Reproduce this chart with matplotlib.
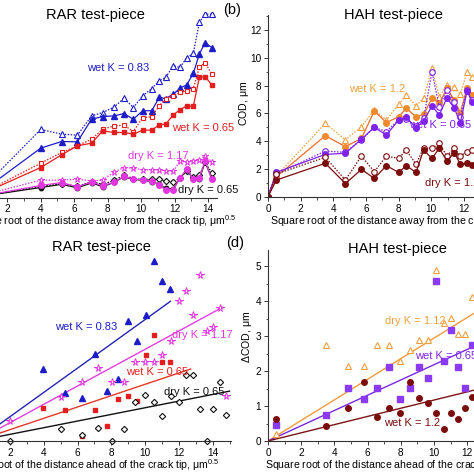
import matplotlib
matplotlib.use("Agg")
import matplotlib.pyplot as plt
from matplotlib.ticker import MultipleLocator

plt.rcParams['font.family'] = ['Liberation Sans', 'DejaVu Sans']
plt.rcParams['mathtext.fontset'] = 'custom'
plt.rcParams['mathtext.rm'] = 'Liberation Sans'
plt.rcParams['mathtext.it'] = 'Liberation Sans:italic'

W = H = 474

# ---------------- data: panel (a) RAR, COD along the crack ----------------
a_x = [0, 4.0, 5.25, 6.19, 7.04, 7.70, 8.40, 8.97, 9.53, 10.09, 10.63, 11.08,
       11.46, 11.92, 12.32, 12.72, 13.11, 13.47, 13.81, 14.21]
a_wet083_open = [0, 4.91, 4.57, 4.50, 5.89, 6.13, 6.54, 7.16, 6.49, 7.34, 7.86, 8.42,
                 8.66, 9.50, 9.38, 10.10, 10.39, 12.63, 13.23, 13.23]
a_wet083_fill = [0, 3.56, 4.04, 4.02, 5.65, 5.84, 5.89, 6.06, 5.65, 6.26, 6.26, 7.22,
                 7.14, 7.45, 7.89, 8.13, 8.95, 10.34, 11.18, 10.82]
a_wet065_open = [0, 2.47, 3.25, 3.73, 4.21, 4.93, 5.17, 5.22, 4.76, 5.77, 5.82, 6.62,
                 7.14, 7.34, 7.58, 7.70, 7.86, 9.38, 9.74, 8.90]
a_wet065_fill = [0, 2.16, 3.08, 3.73, 3.92, 4.81, 4.69, 4.69, 4.57, 4.86, 4.86, 5.25,
                 5.29, 5.97, 6.33, 6.62, 6.57, 8.66, 8.73, 8.13]
a_dry117_open = [0, 1.25, 1.25, 1.32, 1.20, 1.25, 1.85, 2.16, 2.11, 2.00, 2.00, 2.00,
                 1.93, 1.88, 2.65, 2.53, 2.65, 2.69, 3.01, 2.58]
a_dry117_fill = [0, 0.87, 1.08, 0.77, 1.13, 0.84, 1.13, 1.52, 1.32, 1.28, 1.20, 0.89,
                 0.56, 0.56, 1.44, 2.04, 1.32, 1.40, 2.65, 1.32]
a_dry065_open = [0, 0.79, 1.00, 0.80, 1.15, 0.94, 1.25, 1.61, 1.37, 1.30, 1.30, 1.32,
                 1.20, 1.15, 1.39, 1.93, 1.49, 1.60, 2.53, 1.80]
a_dry065_fill = [0, 0.72, 0.95, 0.70, 1.05, 0.78, 1.10, 1.50, 1.30, 1.25, 1.15, 0.95,
                 0.65, 0.62, 1.40, 1.95, 1.35, 1.32, 2.55, 1.40]

# ---------------- data: panel (b) HAH, COD along the crack ----------------
b_x = [0, 0.51, 3.51, 4.74, 5.72, 6.51, 7.25, 8.00, 8.47, 9.06, 9.53, 10.04,
       10.49, 10.96, 11.41, 11.78, 12.19, 12.49]
b_wet12_open = [0, 1.50, 5.29, 4.09, 5.05, 6.25, 5.53, 6.66, 7.33, 6.54, 7.09, 9.25,
                7.21, 8.05, 7.88, 7.40, 9.01, 8.61]
b_wet12_fill = [0, 1.44, 4.40, 3.61, 4.20, 6.18, 5.34, 5.77, 6.37, 5.77, 5.94, 7.09,
                6.73, 7.81, 6.97, 6.06, 7.86, 7.33]
b_wet065_open = [0, 1.64, 3.29, 3.20, 4.10, 5.00, 4.70, 5.55, 5.60, 5.10, 5.65, 9.01,
                 6.49, 7.69, 6.85, 5.77, 7.69, 6.97]
b_wet065_fill = [0, 1.76, 3.05, 3.13, 4.15, 5.00, 4.45, 5.53, 5.72, 4.98, 5.46, 6.54,
                 5.89, 7.14, 6.37, 5.34, 7.62, 6.85]
b_dry12_open = [0, 1.64, 2.84, 1.20, 2.93, 1.80, 2.93, 2.76, 3.37, 2.33, 3.53, 3.49,
                3.85, 2.93, 3.53, 2.93, 3.25, 3.37]
b_dry12_fill = [0, 1.20, 2.41, 0.95, 1.97, 1.32, 2.24, 1.75, 2.24, 1.75, 3.37, 2.76,
                3.49, 2.57, 3.17, 2.33, 2.40, 2.28]

# ---------------- data: panel (c) RAR, delta COD ahead of tip ----------------
c_wet083_x = [3.97, 5.26, 6.24, 7.03, 7.72, 8.37, 8.97, 9.50, 10.03, 10.53, 11.02, 11.47]
c_wet083_y = [2.07, 1.38, 1.23, 2.48, 1.42, 1.78, 3.43, 2.86, 3.61, 5.14, 4.56, 4.33]
c_dry117_x = [2.0, 5.02, 6.24, 7.19, 8.02, 8.75, 9.40, 9.99, 10.53, 11.02, 11.51, 12.01,
              12.42, 12.85, 13.25, 13.68, 14.04, 14.43, 14.79]
c_dry117_y = [0.56, 1.26, 1.69, 2.09, 1.69, 1.69, 2.27, 2.27, 2.27, 2.45, 2.85, 3.99,
              4.28, 3.61, 4.75, 3.13, 3.26, 3.80, 1.30]
c_wet065_x = [3.97, 5.26, 6.24, 7.03, 7.72, 8.37, 8.97, 9.50, 10.03, 10.53, 11.02, 11.47]
c_wet065_y = [0.94, 0.90, 0.13, 0.90, 0.43, 1.21, 1.30, 1.13, 2.47, 3.04, 2.26, 2.26]
c_dry065_x = [2.0, 5.02, 6.24, 7.19, 8.02, 8.75, 9.40, 9.99, 10.53, 11.02, 11.51, 12.01,
              12.42, 12.85, 13.25, 13.68, 14.04, 14.43, 14.79]
c_dry065_y = [0.0, 0.35, 0.16, 0.37, 0.0, 0.35, 1.11, 1.32, 1.11, 0.71, 1.30, 1.11,
              1.89, 1.89, 0.92, 0.0, 0.92, 1.68, 0.73]
c_slopes = [0.347, 0.262, 0.162, 0.095]
c_fit_end = [11.5, 14.6, 12.7, 15.0]

# ---------------- data: panel (d) HAH, delta COD ahead of tip ----------------
d_x = [0.5, 3.51, 4.82, 5.76, 6.57, 7.31, 7.97, 8.53, 9.08, 9.64, 10.14, 10.58,
       11.02, 11.45, 11.89, 12.29]
d_dry112_y = [0.21, 2.73, 2.13, 2.13, 2.73, 2.73, 2.28, 2.59, 2.89, 2.89, 4.88, 3.37,
              3.51, 3.05, 3.05, 4.11]
d_wet065_y = [0.45, 0.75, 1.51, 1.19, 1.51, 2.11, 1.19, 1.51, 2.11, 1.81, 4.56, 2.28,
              3.18, 2.11, 1.51, 2.73]
d_wet12_y = [0.64, 0.42, 0.94, 1.70, 0.68, 0.94, 0.81, 1.70, 1.24, 1.10, 0.81, 0.35,
             0.81, 0.64, 0.94, 1.26]
d_slopes = [0.294, 0.218, 0.117]

# ---------------- styling ----------------
BLUE = '#1c1cc8'
RED = '#e41e1e'
MAG = '#e436e0'
BLK = '#111111'
ORL = '#f0a040'
ORF = '#ee6a2a'
PUR = '#7f22ee'
DRD = '#7a0c0c'
DOT = (0, (1.2, 1.2))
MS = 4.0
LW = 0.9

fig = plt.figure(figsize=(W / 100, H / 100), dpi=100)


def px_axes(left_px, bottom_px, x0_px_per_unit, xmax, top_px, ymax):
    l = left_px / W
    b = 1 - bottom_px / H
    w = x0_px_per_unit * xmax / W
    h = (bottom_px - top_px) / H
    ax = fig.add_axes([l, b, w, h])
    ax.set_xlim(0, xmax)
    ax.set_ylim(0, ymax)
    ax.spines['top'].set_visible(False)
    ax.spines['right'].set_visible(False)
    for s in ('left', 'bottom'):
        ax.spines[s].set_linewidth(0.8)
        ax.spines[s].set_color('#333333')
    ax.tick_params(which='major', direction='out', length=3, width=0.7,
                   labelsize=7.2, pad=2, colors='#333333', labelcolor='black')
    ax.tick_params(which='minor', direction='out', length=1.8, width=0.6,
                   colors='#333333')
    ax.xaxis.set_major_locator(MultipleLocator(2))
    ax.xaxis.set_minor_locator(MultipleLocator(1))
    ax.patch.set_alpha(0)
    return ax


def ftext(px, py, s, **kw):
    fig.text(px / W, 1 - py / H, s, **kw)


# ---------------- panel (a) ----------------
axa = px_axes(-26.3, 197.5, 16.75, 14.5, 12, 185.5 / 13.86)
axa.yaxis.set_major_locator(MultipleLocator(2))
axa.yaxis.set_minor_locator(MultipleLocator(1))
axa.plot(a_x, a_wet083_open, ls=DOT, lw=LW, color=BLUE, marker='^', ms=MS,
         mfc='white', mec=BLUE, mew=0.8)
axa.plot(a_x, a_wet083_fill, ls='-', lw=LW, color=BLUE, marker='^', ms=MS,
         mfc=BLUE, mec=BLUE)
axa.plot(a_x, a_wet065_open, ls=DOT, lw=LW, color=RED, marker='s', ms=MS - 0.5,
         mfc='white', mec=RED, mew=0.8)
axa.plot(a_x, a_wet065_fill, ls='-', lw=LW, color=RED, marker='s', ms=MS - 0.5,
         mfc=RED, mec=RED)
axa.plot(a_x, a_dry065_open, ls=DOT, lw=LW, color=BLK, marker='D', ms=MS - 0.8,
         mfc='white', mec=BLK, mew=0.8)
axa.plot(a_x, a_dry065_fill, ls='-', lw=LW, color=BLK, marker='o', ms=MS - 0.8,
         mfc=BLK, mec=BLK)
axa.plot(a_x, a_dry117_open, ls=DOT, lw=LW, color=MAG, marker='*', ms=MS + 1,
         mfc='white', mec=MAG, mew=0.7)
axa.plot(a_x, a_dry117_fill, ls='-', lw=LW, color=MAG, marker='o', ms=MS,
         mfc=MAG, mec=MAG)
axa.set_xticks([0, 2, 4, 6, 8, 10, 12, 14])

tkw = dict(fontsize=8.0, va='center', ha='left')
ftext(87, 68, 'wet K = 0.83', color=BLUE, **tkw)
ftext(172, 128, 'wet K = 0.65', color=RED, **tkw)
ftext(128, 156, 'dry K = 1.17', color=MAG, **tkw)
ftext(178, 190, 'dry K = 0.65', color=BLK, **tkw)
ftext(95, 15, 'RAR test-piece', fontsize=10.5, ha='center', va='center')
ftext(237, 221, r'Square root of the distance away from the crack tip, $\mathrm{\mu m}^{0.5}$',
      fontsize=7.6, ha='right', va='center')

# ---------------- panel (b) ----------------
axb = px_axes(268, 196.7, 16.33, 15, 15, 181.7 / 13.87)
axb.yaxis.set_major_locator(MultipleLocator(2))
axb.yaxis.set_minor_locator(MultipleLocator(1))
axb.plot(b_x, b_wet12_open, ls=DOT, lw=LW, color=ORL, marker='^', ms=MS,
         mfc='white', mec=ORL, mew=0.8)
axb.plot(b_x, b_wet12_fill, ls='-', lw=LW, color=ORF, marker='o', ms=MS,
         mfc='#f08a2a', mec='#f08a2a')
axb.plot(b_x, b_wet065_open, ls=DOT, lw=LW, color=PUR, marker='o', ms=MS,
         mfc='white', mec=PUR, mew=0.8)
axb.plot(b_x, b_wet065_fill, ls='-', lw=LW, color=PUR, marker='o', ms=MS,
         mfc=PUR, mec=PUR)
axb.plot(b_x, b_dry12_open, ls=DOT, lw=LW, color=DRD, marker='o', ms=MS,
         mfc='white', mec=DRD, mew=0.8)
axb.plot(b_x, b_dry12_fill, ls='-', lw=LW, color=DRD, marker='o', ms=MS,
         mfc=DRD, mec=DRD)
ftext(348.7, 89, 'wet K = 1.2', color=ORL, **tkw)
ftext(408.7, 125, 'wet K = 0.65', color=PUR, **tkw)
ftext(425.3, 182.7, 'dry K = 1.2', color=DRD, **tkw)
ftext(393.7, 15, 'HAH test-piece', fontsize=10.5, ha='center', va='center')
ftext(270.3, 221, 'Square root of the distance away from the crack tip, '
      r'$\mathrm{\mu m}^{0.5}$', fontsize=7.6, ha='left', va='center')
ftext(244, 103, r'COD, $\mathrm{\mu}$m', fontsize=7.6, ha='center', va='center',
      rotation=90)
ftext(223, 10, '(b)', fontsize=10.5, ha='left', va='center')

# ---------------- panel (c) ----------------
axc = px_axes(-23.8, 441, 16.89, 15.1, 250, 191 / 35)
axc.yaxis.set_major_locator(MultipleLocator(1))
axc.yaxis.set_minor_locator(MultipleLocator(0.5))
axc.set_xticks([0, 2, 4, 6, 8, 10, 12, 14])
c_cols = ['#2424b4', '#e23ee0', '#e2382a', BLK]
for k, end, col in zip(c_slopes, c_fit_end, c_cols):
    axc.plot([0, end], [0, k * end], color=col, lw=1.0)
axc.plot(c_wet083_x, c_wet083_y, ls='none', marker='^', ms=MS, color=BLUE)
axc.plot(c_dry117_x, c_dry117_y, ls='none', marker='*', ms=MS + 1.5,
         mfc='white', mec=MAG, mew=0.7)
axc.plot(c_wet065_x, c_wet065_y, ls='none', marker='s', ms=MS - 0.5, color=RED)
axc.plot(c_dry065_x, c_dry065_y, ls='none', marker='D', ms=MS - 0.8,
         mfc='white', mec=BLK, mew=0.8, clip_on=False)
ftext(55, 327, 'wet K = 0.83', color=BLUE, **tkw)
ftext(172, 334.7, 'dry K = 1.17', color=MAG, **tkw)
ftext(126, 372, 'wet K = 0.65', color=RED, **tkw)
ftext(164, 392, 'dry K = 0.65', color=BLK, **tkw)
ftext(101.7, 247, 'RAR test-piece', fontsize=10.5, ha='center', va='center')
ftext(219, 465.3, r'Square root of the distance ahead of the crack tip, $\mathrm{\mu m}^{0.5}$',
      fontsize=7.6, ha='right', va='center')

# ---------------- panel (d) ----------------
axd = px_axes(268, 441, 16.6, 15, 250.3, 190.7 / 35)
axd.yaxis.set_major_locator(MultipleLocator(1))
axd.yaxis.set_minor_locator(MultipleLocator(0.5))
d_cols = ['#f09a3a', '#7a28e0', '#7a1414']
for k, col in zip(d_slopes, d_cols):
    axd.plot([0, 15], [0, k * 15], color=col, lw=1.0)
axd.plot(d_x, d_dry112_y, ls='none', marker='^', ms=MS, mfc='white', mec=ORL, mew=0.8)
axd.plot(d_x, d_wet065_y, ls='none', marker='s', ms=MS - 0.3, color='#8a3af0')
axd.plot(d_x, d_wet12_y, ls='none', marker='o', ms=MS, color=DRD)
ftext(385, 321.3, 'dry K = 1.12', color=ORL, **tkw)
ftext(414.7, 356, 'wet K = 0.65', color=PUR, **tkw)
ftext(383.7, 422.7, 'wet K = 1.2', color=DRD, **tkw)
ftext(397, 248.7, 'HAH test-piece', fontsize=10.5, ha='center', va='center')
ftext(265.3, 465.3, 'Square root of the distance ahead of the crack tip, '
      r'$\mathrm{\mu m}^{0.5}$', fontsize=7.6, ha='left', va='center')
ftext(247, 337, r'$\Delta$COD, $\mathrm{\mu}$m', fontsize=7.6, ha='center',
      va='center', rotation=90)
ftext(226, 243, '(d)', fontsize=10.5, ha='left', va='center')

fig.savefig('out.png', dpi=100)
